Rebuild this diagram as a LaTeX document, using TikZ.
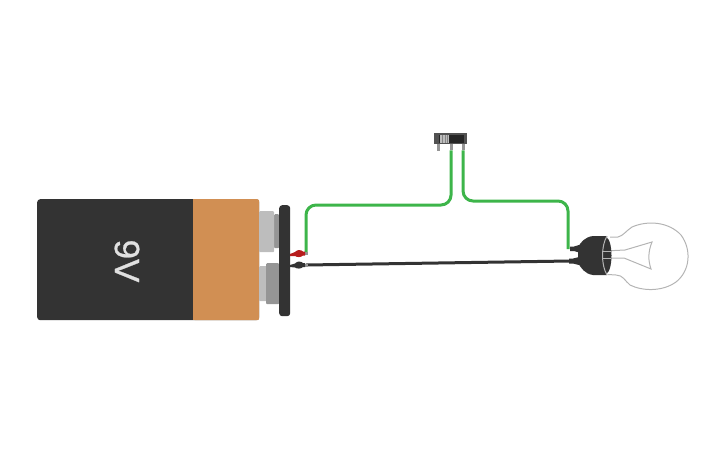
\documentclass[tikz,border=0pt]{standalone}
\usepackage{fontspec}
\setmainfont{Liberation Sans}
\newfontfamily\voltfont[FakeBold=0.7]{Liberation Sans}
\usetikzlibrary{positioning}
\definecolor{casedark}{HTML}{333333}
\definecolor{caseorange}{HTML}{D18F53}
\definecolor{termlight}{HTML}{BDBDBD}
\definecolor{termdark}{HTML}{959595}
\definecolor{wiregreen}{HTML}{3DB54A}
\definecolor{leadred}{HTML}{B71C1C}
\definecolor{glassline}{HTML}{B4B4B4}
\tikzset{
  part/.style n args={2}{
    shape=rectangle,
    inner sep=0pt,
    anchor=north west,
    minimum width=#1,
    minimum height=#2
  },
  terminal/.style={fill=termlight,rounded corners=1pt},
  terminal back/.style={fill=termdark,rounded corners=1pt},
  wire/.style={line width=3pt,wiregreen,rounded corners=10pt},
  blackwire/.style={line width=3pt,casedark},
  pin/.style={fill=termdark},
  glass/.style={draw=glassline,line width=1pt}
}
\begin{document}
\begin{tikzpicture}[x=1pt,y=-1pt]
    \useasboundingbox (0,0) rectangle (725,453);
    % battery
    \node [part={222pt}{121pt},fill=casedark,rounded corners=3pt] (battery) at (37,199) {};
    \node [part={66pt}{121pt},fill=caseorange,rounded corners=2pt] (label) at (193,199) {};
    \fill [caseorange] (193,199) rectangle (200,320);
    \node [rotate=-90,text=white!88!black,font=\voltfont\fontsize{35}{35}\selectfont] (volts) at (127,261) {9V};
    % terminals
    \node [part={5pt}{34pt},terminal back] (plusback) at (274,214) {};
    \node [part={15pt}{41pt},terminal] (plus) at (259,211) {};
    \node [part={8pt}{35pt},terminal] (minus) at (259,266) {};
    \node [part={13pt}{41pt},terminal back] (minusback) at (266,263) {};
    % clip
    \node [part={11pt}{111pt},fill=casedark,rounded corners=3pt] (clip) at (279,205) {};
    % switch
    \node [part={33pt}{11pt},fill=casedark!85!white] (switch) at (434,133) {};
    \node [part={25pt}{8pt},fill=black!85] (slot) at (439,134.5) {};
    \node [part={9pt}{8pt},fill=termlight] (slider) at (440,134.5) {};
    \foreach \x in {442,444.5,447}
      \fill [casedark!60!white] (\x,134.5) rectangle ++(1,8);
    \node [part={2.5pt}{7pt},pin] (pinc) at (437,144) {};
    \node [part={3pt}{6pt},pin] (pina) at (449.5,144) {};
    \node [part={3pt}{6pt},pin] (pinb) at (461.5,144) {};
    % wires
    \coordinate (clipplus) at (306,253);
    \coordinate (clipminus) at (306,265);
    \coordinate (bulbplus) at (568,249);
    \coordinate (bulbminus) at (570,261);
    \draw [wire] (clipplus) -- (306,205) -- (451,205) -- (pina.south);
    \draw [wire] (pinb.south) -- (463,201) -- (568,201) -- (bulbplus);
    \draw [blackwire] (clipminus) -- (bulbminus);
    % leads
    \fill [termdark] (304.5,251.5) rectangle (307.5,255);
    \fill [termdark] (304.5,263.5) rectangle (308,266.5);
    \fill [leadred] (290,254) -- (295,252) .. controls (297,249.5) and (301,249.5) .. (303,251.5)
       -- (305,251.5) -- (305,255.5) -- (303,255.5) .. controls (301,257.5) and (297,257.5) .. (295,256) -- (290,256) -- cycle;
    \fill [casedark] (290,265) -- (295,263.5) .. controls (297,261) and (301,261) .. (303,263)
       -- (305,263) -- (305,267) -- (303,267) .. controls (301,269) and (297,269) .. (295,267.5) -- (290,267) -- cycle;
    % bulb
    \draw [glass] (610,237) -- (618,237) .. controls (623,236) and (627,230) .. (632,227)
       .. controls (648,220) and (669,222) .. (681,235)
       .. controls (692,250) and (690,271) .. (676,282)
       .. controls (662,292) and (642,291) .. (630,285)
       .. controls (625,281) and (623,275) .. (616,275) -- (608,274.5);
    \draw [glass] (604,251) -- (625,250) -- (652,242) .. controls (648,252) and (648,260) .. (651,269)
       -- (624,258) -- (603,258);
    \fill [casedark] (578,247) .. controls (581,242) and (585,237) .. (593,236) -- (607,236)
       -- (607,275) -- (593,275)
       .. controls (585,274) and (581,268) .. (578,263) -- cycle;
    \fill [casedark] (606,255.5) ellipse (5.5 and 18);
    \draw [glassline,line width=1pt] (603,251) -- (611,251) (603,258) -- (611,258);
    \draw [glass] (607,236) .. controls (601,246) and (601,265) .. (607,275);
    \fill [casedark] (570,246.5) -- (574,246.5) -- (579,245) -- (579,252.5) -- (574,251) -- (570,251) -- cycle;
    \fill [casedark] (569,258.5) -- (573,258.5) -- (579,257) -- (579,265) -- (573,263.5) -- (569,263.5) -- cycle;
\end{tikzpicture}
\end{document}
